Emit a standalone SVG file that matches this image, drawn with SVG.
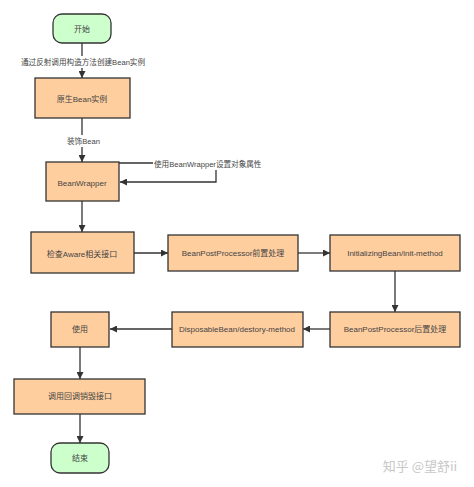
<svg xmlns="http://www.w3.org/2000/svg" width="474" height="487" viewBox="0 0 474 487">
<defs>
<marker id="arr" viewBox="0 0 10 10" refX="10" refY="5" markerWidth="7" markerHeight="7" markerUnits="userSpaceOnUse" orient="auto">
<path d="M0,0 L10,5 L0,10 z" fill="#333"/>
</marker>
<style>
.box{fill:#FFCE9F;stroke:#333;stroke-width:1.3}
.term{fill:#CCFFCC;stroke:#333;stroke-width:1.3}
.t{font-family:"Liberation Sans","Noto Sans CJK SC",sans-serif;font-size:8px;fill:#444;text-anchor:middle;dominant-baseline:central}
.lbl{font-family:"Liberation Sans","Noto Sans CJK SC",sans-serif;font-size:7.6px;fill:#444;dominant-baseline:central}
.c{fill:none;stroke:#333;stroke-width:1.3;marker-end:url(#arr)}
</style>
</defs>
<rect width="474" height="487" fill="#fff"/>
<g id="connectors">
<path class="c" d="M82,43 V78"/>
<path class="c" d="M82,118 V162"/>
<path class="c" d="M82,163 H216 V182 H120"/>
<path class="c" d="M82,201 V232"/>
<path class="c" d="M134,253 H168"/>
<path class="c" d="M298,253 H330"/>
<path class="c" d="M395,271 V312"/>
<path class="c" d="M330,329 H303"/>
<path class="c" d="M172,329 H110"/>
<path class="c" d="M80,347 V379"/>
<path class="c" d="M80,414 V443"/>
<rect x="20" y="56" width="124" height="12" fill="#fff"/>
<text class="lbl" x="21" y="62">通过反射调用构造方法创建Bean实例</text>
<rect x="66" y="135" width="34" height="12" fill="#fff"/>
<text class="lbl" x="67" y="141">装饰Bean</text>
<rect x="153" y="158" width="110" height="12" fill="#fff"/>
<text class="lbl" x="154" y="164">使用BeanWrapper设置对象属性</text>
</g>
<g id="start"><rect class="term" x="53" y="14" width="58" height="29" rx="9"/><text class="t" x="82" y="29">开始</text></g>
<g id="raw"><rect class="box" x="35" y="78" width="95" height="40"/><text class="t" x="82" y="99">原生Bean实例</text></g>
<g id="wrapper"><rect class="box" x="46" y="162" width="73" height="39"/><text class="t" x="82" y="183">BeanWrapper</text></g>
<g id="aware"><rect class="box" x="31" y="232" width="103" height="41"/><text class="t" x="82" y="254">检查Aware相关接口</text></g>
<g id="before"><rect class="box" x="168" y="235" width="130" height="36"/><text class="t" x="233" y="253">BeanPostProcessor前置处理</text></g>
<g id="init"><rect class="box" x="330" y="235" width="130" height="36"/><text class="t" x="395" y="253">InitializingBean/init-method</text></g>
<g id="after"><rect class="box" x="330" y="312" width="130" height="35"/><text class="t" x="395" y="329">BeanPostProcessor后置处理</text></g>
<g id="dispose"><rect class="box" x="172" y="312" width="131" height="35"/><text class="t" x="237" y="329">DisposableBean/destory-method</text></g>
<g id="use"><rect class="box" x="51" y="312" width="58" height="35"/><text class="t" x="80" y="329">使用</text></g>
<g id="destroy"><rect class="box" x="14" y="379" width="131" height="35"/><text class="t" x="80" y="396">调用回调销毁接口</text></g>
<g id="end"><rect class="term" x="51" y="443" width="58" height="30" rx="9"/><text class="t" x="80" y="458">结束</text></g>
<text x="420" y="465" font-family="'Noto Sans CJK SC',sans-serif" font-size="13" fill="#c8c8c8" text-anchor="middle" dominant-baseline="central">知乎 @望舒ii</text>
</svg>
